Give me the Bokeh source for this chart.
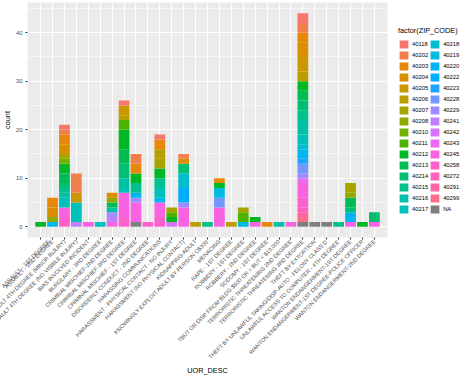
import math
from bokeh.plotting import figure
from bokeh.layouts import row
from bokeh.models import (FactorRange, Range1d, ColumnDataSource, Legend, LegendItem,
                          SingleIntervalTicker)
from bokeh.core.properties import value
from bokeh.embed import file_html
from bokeh.resources import INLINE

categories = [
    "ASSAULT - 1ST DEGREE",
    "ASSAULT - 2ND DEGREE",
    "ASSAULT 4TH DEGREE (MINOR INJURY)",
    "ASSAULT 4TH DEGREE (NO VISIBLE INJURY)",
    "BIAS INVOLVED INCIDENT",
    "BURGLARY - 3RD DEGREE",
    "CRIMINAL MISCHIEF-2ND DEGREE",
    "CRIMINAL MISCHIEF-3RD DEGREE",
    "CRIMINAL MISCHIEF - 1ST DEGREE",
    "DISORDERLY CONDUCT - 2ND DEGREE",
    "HARASSING COMMUNICATIONS",
    "HARASSMENT - PHYSICAL CONTACT - NO INJURY",
    "HARASSMENT (NO PHYSICAL CONTACT)",
    "KIDNAPPING-ADULT",
    "KNOWINGLY EXPLOIT ADULT BY PERSON O$300",
    "MENACING",
    "RAPE - 1ST DEGREE",
    "ROBBERY - 1ST DEGREE",
    "ROBBERY - 2ND DEGREE",
    "SODOMY - 1ST DEGREE",
    "TBUT OR DISP FROM BLDG $500 OR > BUT < $10,000",
    "TERRORISTIC THREATENING 2ND DEGREE",
    "TERRORISTIC THREATENING 3RD DEGREE",
    "THEFT BY EXTORTION",
    "THEFT BY UNLAWFUL TAKING/DISP-AUTO - FELONY CLASS D",
    "UNLAWFUL ACCESS TO COMPUTER - 4TH DEGREE",
    "WANTON ENDANGERMENT-1ST DEGREE",
    "WANTON ENDANGERMENT-1ST DEGREE-POLICE OFFICER",
    "WANTON ENDANGERMENT-2ND DEGREE",
]

zip_codes = [
    "40118", "40202", "40203", "40204", "40205", "40206", "40207", "40208",
    "40210", "40211", "40212", "40213", "40214", "40215", "40216", "40217",
    "40218", "40219", "40220", "40222", "40223", "40228", "40229", "40241",
    "40242", "40243", "40245", "40258", "40272", "40291", "40299", "NA",
]

# long-format segments: category index, zip code, count
seg_category = [
    0,
    1, 1, 1, 1,
    2, 2, 2, 2, 2, 2, 2, 2, 2, 2, 2, 2, 2, 2,
    3, 3, 3, 3,
    4,
    5,
    6, 6, 6, 6, 6, 6, 6,
    7, 7, 7, 7, 7, 7, 7, 7, 7, 7, 7,
    8, 8, 8, 8, 8, 8, 8, 8,
    9,
    10, 10, 10, 10, 10, 10, 10, 10, 10, 10,
    11, 11, 11, 11,
    12, 12, 12, 12, 12, 12, 12,
    13,
    14,
    15, 15, 15, 15, 15,
    16,
    17, 17, 17,
    18, 18,
    19,
    20,
    21,
    22, 22, 22, 22, 22, 22, 22, 22, 22, 22, 22, 22, 22, 22, 22, 22, 22, 22, 22, 22, 22, 22,
    22, 22, 22,
    23,
    24,
    25,
    26, 26, 26, 26, 26, 26,
    27,
    28, 28,
]
seg_zip = [
    "40212",
    "40203", "40204", "40208", "40220",
    "40118", "40202", "40203", "40204", "40207", "40210", "40212", "40213", "40214",
    "40215", "40216", "40217", "40245", "40258",
    "40202", "40205", "40217", "40241",
    "40245",
    "40217",
    "40204", "40208", "40213", "40216", "40229", "40241", "40245",
    "40118", "40205", "40206", "40211", "40212", "40213", "40214", "40216", "40217",
    "40245", "40258",
    "40202", "40203", "40212", "40215", "40220", "40229", "40245", "NA",
    "40258",
    "40118", "40203", "40206", "40207", "40212", "40215", "40217", "40220", "40245", "40258",
    "40207", "40211", "40212", "40242",
    "40202", "40204", "40214", "40218", "40222", "40229", "40245",
    "40206",
    "40215",
    "40203", "40212", "40219", "40228", "40245",
    "40206",
    "40207", "40211", "40219",
    "40212", "40245",
    "40203",
    "40216",
    "40245",
    "40118", "40202", "40203", "40204", "40205", "40206", "40212", "40213", "40214",
    "40215", "40216", "40217", "40218", "40219", "40220", "40223", "40228", "40229",
    "40243", "40245", "40258", "40272",
    "40291", "40299", "NA",
    "NA",
    "NA",
    "40215",
    "40207", "40208", "40213", "40214", "40220", "40245",
    "40212",
    "40214", "40245",
]
seg_count = [
    1,
    2, 2, 1, 1,
    1, 1, 2, 2, 1, 1, 2, 2, 1, 1, 1, 2, 2, 2,
    4, 2, 4, 1,
    1,
    1,
    1, 1, 1, 1, 1, 1, 1,
    1, 2, 1, 2, 4, 3, 3, 2, 1, 5, 2,
    2, 2, 2, 2, 1, 1, 4, 1,
    1,
    1, 2, 2, 2, 2, 2, 2, 1, 3, 2,
    1, 1, 1, 1,
    1, 1, 2, 3, 3, 1, 4,
    1,
    1,
    1, 1, 2, 2, 4,
    1,
    1, 2, 1,
    1, 1,
    1,
    1,
    1,
    2, 2, 2, 3, 3, 2, 2, 2, 2, 2, 3, 2, 1, 1, 1, 1, 2, 1, 1, 3, 2, 1,
    1, 1, 1,
    1,
    1,
    1,
    2, 1, 2, 1, 2, 1,
    1,
    2, 1,
]


def hcl_hex(h, c=100.0, l=65.0):
    hr = math.radians(h)
    U = c * math.cos(hr)
    V = c * math.sin(hr)
    wy, wu, wv = 100.0, 0.1978398, 0.4683363
    Y = wy * ((l + 16) / 116) ** 3 if l > 7.999592 else wy * l / 903.3
    u = U / (13 * l) + wu
    v = V / (13 * l) + wv
    X = 9.0 * Y * u / (4 * v)
    Z = -X / 3 - 5 * Y + 3 * Y / v
    r = (3.240479 * X - 1.537150 * Y - 0.498535 * Z) / wy
    g = (-0.969256 * X + 1.875992 * Y + 0.041556 * Z) / wy
    b = (0.055648 * X - 0.204043 * Y + 1.057311 * Z) / wy

    def gt(t):
        t = 1.055 * t ** (1 / 2.4) - 0.055 if t > 0.00304 else 12.92 * t
        return max(0, min(255, int(round(255 * t))))
    return "#%02X%02X%02X" % (gt(r), gt(g), gt(b))


n_hue = len(zip_codes) - 1
zip_colors = [hcl_hex(15 + i * 360.0 / n_hue) for i in range(n_hue)] + ["#7F7F7F"]
color_of = dict(zip(zip_codes, zip_colors))

table = {z: [0] * len(categories) for z in zip_codes}
for ci, z, n in zip(seg_category, seg_zip, seg_count):
    table[z][ci] += n
source = ColumnDataSource(dict(x=categories, **table))

FONT = "Liberation Sans"
H = 378

p = figure(
    x_range=FactorRange(factors=categories, range_padding=0.6, range_padding_units="absolute"),
    y_range=Range1d(-2.2, 46.2),
    width=390, height=H,
    output_backend="svg", toolbar_location=None,
    min_border_left=0, min_border_right=3, min_border_top=2, min_border_bottom=0,
)
p.background_fill_color = "#EBEBEB"
p.border_fill_color = "white"
p.outline_line_color = None

stack_order = list(reversed(zip_codes))  # NA at bottom, 40118 on top
p.vbar_stack(
    stack_order, x="x", width=0.9, source=source,
    fill_color=[color_of[z] for z in stack_order], line_color=None,
)

p.yaxis.ticker = SingleIntervalTicker(interval=10, num_minor_ticks=2)
p.ygrid.grid_line_color = "white"
p.ygrid.grid_line_width = 1
p.ygrid.minor_grid_line_color = "white"
p.ygrid.minor_grid_line_width = 0.5
p.xgrid.grid_line_color = "white"
p.xgrid.grid_line_width = 1

for ax in (p.xaxis[0], p.yaxis[0]):
    ax.axis_line_color = None
    ax.major_tick_line_color = "#333333"
    ax.major_tick_out = 2
    ax.major_tick_in = 0
    ax.minor_tick_line_color = None
    ax.major_label_text_font = FONT
    ax.major_label_text_color = "#4D4D4D"
    ax.axis_label_text_font = FONT
    ax.axis_label_text_font_style = "normal"
    ax.axis_label_text_font_size = "7.3px"
    ax.axis_label_text_color = "black"
    ax.axis_label_standoff = 1
    ax.major_label_standoff = 1

p.xaxis.axis_label = "UOR_DESC"
p.yaxis.axis_label = "count"
p.yaxis.major_label_text_font_size = "5.8px"
p.xaxis.major_label_text_font_size = "5.6px"
p.xaxis.major_label_orientation = math.pi / 4

# legend in its own narrow panel to the right of the plot
lf = figure(
    width=80, height=H, x_range=Range1d(0, 1), y_range=Range1d(0, 1),
    x_axis_type=None, y_axis_type=None,
    output_backend="svg", toolbar_location=None,
    min_border_left=8, min_border_right=0, min_border_top=0, min_border_bottom=0,
)
lf.outline_line_color = None
lf.background_fill_color = "white"
lf.border_fill_color = "white"
lf.grid.visible = False

items = []
for z in zip_codes:
    # zero-height key renderer: only its fill colour is used, by the legend
    r = lf.vbar(x=[0], top=[0], width=0.5, fill_color=color_of[z], line_color=None)
    items.append(LegendItem(label=value(z), renderers=[r]))

legend = Legend(
    items=items, title="factor(ZIP_CODE)", location="center_left", nrows=16,
    label_text_font=FONT, label_text_font_size="5.8px", label_text_color="black",
    title_text_font=FONT, title_text_font_size="7.3px", title_text_font_style="normal",
    title_text_color="black", title_standoff=4,
    glyph_width=11, glyph_height=10, label_height=10, label_width=16,
    spacing=1, padding=0, margin=0, label_standoff=3,
    border_line_color=None, background_fill_alpha=0,
)
lf.add_layout(legend)

layout = row(p, lf)
open("out.html", "w").write(file_html(layout, INLINE))
